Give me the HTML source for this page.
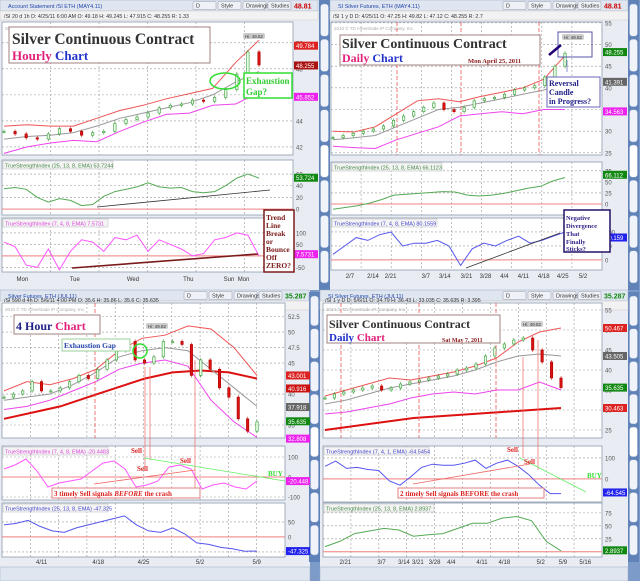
<!DOCTYPE html>
<html><head><meta charset="utf-8"><style>
html,body{margin:0;padding:0;background:#6f8fbf;}
svg{display:block;font-family:"Liberation Sans",sans-serif;}
.ser{font-family:"Liberation Serif",serif;font-weight:bold;}
</style></head><body>
<svg id="s" width="640" height="581" viewBox="0 0 640 581" xmlns="http://www.w3.org/2000/svg">
<g id="bg"></g>
<g id="charts"></g>
<g id="ann">
 <rect x="9" y="27" width="201" height="36" fill="#fff" stroke="#a08080"/>
 <text x="12" y="44" class="ser" font-size="15.5" fill="#333">Silver Continuous Contract</text>
 <text x="12" y="60" class="ser" font-size="13"><tspan fill="#e0207a">Hourly</tspan><tspan fill="#2233cc"> Chart</tspan></text>
 <ellipse cx="225" cy="81" rx="15" ry="8" fill="none" stroke="#33dd33" stroke-width="1.5"/>
 <rect x="244" y="73" width="48" height="25" fill="#fff" stroke="#33dd33" stroke-width="1.5"/>
 <text x="246" y="84" class="ser" font-size="9" fill="#33cc33">Exhaustion</text>
 <text x="246" y="95" class="ser" font-size="9" fill="#33cc33">Gap?</text>
 <rect x="264" y="210" width="30" height="62" fill="#fff" stroke="#7a1a1a" stroke-width="1.5"/>
 <text class="ser" font-size="7.5" fill="#7a1a1a"><tspan x="266" y="220">Trend</tspan><tspan x="266" y="228">Line</tspan><tspan x="266" y="236">Break</tspan><tspan x="266" y="244">or</tspan><tspan x="266" y="252">Bounce</tspan><tspan x="266" y="260">Off</tspan><tspan x="266" y="268">ZERO?</tspan></text>
 <rect x="340" y="35" width="200" height="30" fill="#fff" stroke="#a08080"/>
 <text x="342" y="48" class="ser" font-size="14" fill="#333">Silver Continuous Contract</text>
 <text x="342" y="62" class="ser" font-size="12"><tspan fill="#e0207a">Daily</tspan><tspan fill="#2233cc"> Chart</tspan></text>
 <text x="468" y="63" class="ser" font-size="6.5" fill="#8a1a1a">Mon April 25, 2011</text>
 <rect x="558" y="32" width="34" height="25" fill="none" stroke="#5555aa"/>
 <line x1="549" y1="55" x2="561" y2="45" stroke="#220077" stroke-width="2.5"/>
 <line x1="567" y1="72" x2="567" y2="60" stroke="#7777cc" stroke-width="0.8"/>
 <rect x="547" y="77" width="53" height="30" fill="#fff" stroke="#6666bb"/>
 <text class="ser" font-size="8" fill="#222288"><tspan x="549" y="86">Reversal</tspan><tspan x="549" y="95">Candle</tspan><tspan x="549" y="104">in Progress?</tspan></text>
 <rect x="564" y="210" width="46" height="42" fill="#fff" stroke="#221166" stroke-width="1.5"/>
 <text class="ser" font-size="6.5" fill="#332288"><tspan x="566" y="220">Negative</tspan><tspan x="566" y="228">Divergence</tspan><tspan x="566" y="236">That</tspan><tspan x="566" y="244">Finally</tspan><tspan x="566" y="251">Sticks?</tspan></text>
 <rect x="14" y="315" width="86" height="19" fill="#fff" stroke="#a08080"/>
 <text x="16" y="330" class="ser" font-size="12"><tspan fill="#222288">4 Hour</tspan><tspan fill="#e0207a"> Chart</tspan></text>
 <rect x="62" y="339" width="68" height="12" fill="#fff" stroke="#9ad09a"/>
 <text x="64" y="348" class="ser" font-size="7.5" fill="#2244aa">Exhaustion Gap</text>
 <circle cx="140" cy="351" r="7" fill="none" stroke="#33dd33" stroke-width="1.5"/>
 <text x="131" y="453" class="ser" font-size="7" fill="#dd2222">Sell</text>
 <text x="137" y="471" class="ser" font-size="7" fill="#dd2222">Sell</text>
 <text x="180" y="463" class="ser" font-size="7" fill="#dd2222">Sell</text>
 <text x="268" y="476" class="ser" font-size="7" fill="#33dd33">BUY</text>
 <rect x="52" y="488" width="148" height="10" fill="#fff" stroke="#e08080"/>
 <text x="54" y="496" class="ser" font-size="7" fill="#dd2222">3 timely Sell signals <tspan font-style="italic">BEFORE</tspan> the crash</text>
 <rect x="327" y="315" width="173" height="28" fill="#fff" stroke="#a08080"/>
 <text x="329" y="328" class="ser" font-size="12" fill="#333">Silver Continuous Contract</text>
 <text x="329" y="341" class="ser" font-size="11"><tspan fill="#2233cc">Daily</tspan><tspan fill="#e0207a"> Chart</tspan></text>
 <text x="442" y="342" class="ser" font-size="6" fill="#8a1a1a">Sat May 7, 2011</text>
 <text x="507" y="452" class="ser" font-size="7" fill="#dd2222">Sell</text>
 <text x="524" y="464" class="ser" font-size="7" fill="#dd2222">Sell</text>
 <text x="587" y="478" class="ser" font-size="7" fill="#33dd33">BUY</text>
 <rect x="398" y="488" width="146" height="10" fill="#fff" stroke="#e08080"/>
 <text x="400" y="496" class="ser" font-size="7" fill="#dd2222">2 timely Sell signals BEFORE the crash</text>
</g>
</svg>
<script>
const tlCloses=[43.2,43.0,42.7,42.6,43.0,43.4,43.2,42.9,43.1,43.2,43.8,44.1,44.3,44.6,45.0,45.2,45.3,45.6,45.5,45.8,46.4,47.6,49.3,48.3];
const tlUpper=[43.6,43.7,43.6,43.6,44.2,44.8,45.2,45.7,46.1,46.5,48.5,50.2];
const tlMid=[42.6,42.8,42.9,43.1,43.6,44.2,44.6,45.0,45.4,46.0,47.0,47.8];
const tlLower=[41.5,42.0,42.3,42.5,42.4,43.2,43.9,44.5,44.6,45.2,45.3,46.2];
const tlTsiA=[35,37,34,20,12,18,15,6,8,22,30,34,38,45,38,36,37,30,28,30,40,53,60,53];
const tlTsiB=[60,40,-40,-50,30,-60,20,70,60,20,80,70,90,20,70,50,30,0,10,70,80,100,90,0];
const tlPriceTicks=[42,44,46,48,50];
const tlTsiATicks=[0,20,40,60];
const tlTsiBTicks=[-50,0,50,100];
const tlXLabels=["Mon","Tue","Wed","Thu","Sun","Mon"];
const tlXFrac=[0.07,0.25,0.45,0.64,0.78,0.83];

const trCloses=[28.5,29,29.5,30,30.5,31.2,32.5,33.5,34.5,35.5,36.5,35,34.5,35.5,37,37.5,37.8,38.5,39.5,40,40.5,42.5,45,48];
const trUpper=[30,29.8,31,34,37,37.5,36.8,38,39,40,42,47.5];
const trMid=[28,28.5,29,31,33,35,35.5,36.5,37.5,38.5,39.5,41];
const trLower=[26.5,26.2,26,28,29.5,31,33.5,34,34.5,34,35,35];
const trTsiA=[-12,-8,-4,2,10,20,22,24,26,28,27,20,18,20,24,30,36,40,52,60];
const trTsiB=[20,50,80,70,90,100,50,60,60,70,50,-20,40,60,50,70,85,60,70,85,100];
const trPriceTicks=[25,30,35,40,45,50,55];
const trTsiATicks=[0,25,50,75];
const trTsiBTicks=[0,50,100];
const trXLabels=["2/7","2/14","2/21","3/7","3/14","3/21","3/28","4/4","4/11","4/18","4/25","5/2"];
const trXFrac=[0.07,0.155,0.22,0.35,0.42,0.5,0.57,0.64,0.71,0.785,0.855,0.93];

const blCloses=[39.5,40,40.5,42,40.5,40.5,41,42,43,42.5,44,45.5,47,48.5,45.5,45,46,48.5,48.5,48,43,45.5,44,41,39.5,36,34,35.5];
const blUpper=[40.5,42,41.5,42.5,44,47,49,49.5,51,50.5,47.5,43];
const blMid=[39,39.5,40,41.5,43.5,46,47,47.5,47,44,41,38];
const blLower=[37.5,38,39,40.5,42,44,45,45.5,44.5,39,35.5,33];
const blSma=[36,37,38,39.5,41,42.5,43.5,43.8,43.5,42.5];
const blTsiA=[40,60,90,30,-50,-30,-20,-10,30,70,80,40,-50,-40,-20,50,60,40,-60,-40,-30,-50,-60,-20];
const blTsiB=[40,45,55,35,20,15,30,40,50,60,70,40,20,15,30,10,-20,-25,-35,-40,-48,-47];
const blPriceTicks=[35,40,45,47.5,50,52.5];
const blTsiATicks=[-100,0,100];
const blTsiBTicks=[-50,0,50];
const blXLabels=["4/11","4/18","4/25","5/2","5/9"];
const blXFrac=[0.14,0.34,0.5,0.7,0.9];

const brCloses=[33,34,34.5,35,35.5,36,35,35.5,36.5,37,37.5,38,38.5,39,40,40.5,41.5,43.5,45.5,46.5,47.5,48,45,42,38,35.6];
const brUpper=[33.5,35,36.5,38,37.5,38.5,39.5,41,43,47,49.5,50.5];
const brMid=[31.5,32.5,34,35.5,36.5,37.5,38.5,40,42,43.5,44,43.5];
const brLower=[29,29.5,30.5,31.5,33,34,34.5,34,35,35,37,35];
const brSma=[25,26,27,28,28.5,29,29.5,30,30.5];
const brTsiA=[60,85,50,55,45,40,-10,-30,10,55,70,65,65,75,90,50,75,90,60,20,-30,-70,-70];
const brTsiB=[10,20,35,40,45,42,30,33,35,45,55,55,65,68,60,20,2];
const brPriceTicks=[25,30,35,40,45,50,55];
const brTsiATicks=[0,100];
const brTsiBTicks=[0,25,50,75];
const brXLabels=["2/21","3/7","3/14","3/21","3/28","4/4","4/11","4/18","5/2","5/9","5/16"];
const brXFrac=[0.08,0.21,0.29,0.34,0.4,0.46,0.57,0.65,0.78,0.86,0.94];

const NS="http://www.w3.org/2000/svg";
const charts=document.getElementById('charts'), bg=document.getElementById('bg');
function mk(tag,at,parent){const e=document.createElementNS(NS,tag);for(const k in at)e.setAttribute(k,at[k]);(parent||charts).appendChild(e);return e;}
function yScale(p){return v=>p.y0+(p.max-v)/(p.max-p.min)*(p.y1-p.y0);}
function xIdx(x0,span){return (i,n)=>x0+(n>1?i/(n-1):0)*span;}
function line(arr,x,y,color,w){
  const pts=arr.map((v,i)=>x(i,arr.length).toFixed(1)+","+y(v).toFixed(1)).join(" ");
  const e=mk('polyline',{points:pts,fill:'none',stroke:color,'stroke-width':w||1});
  
  
  return e;
}
function pane(px0,px1,p,ticks,label,labelW,grid){
  const r=mk('rect',{x:px0,y:p.y0,width:px1-px0,height:p.y1-p.y0,fill:'#fff',stroke:'#8c9bb0','stroke-width':0.8});
  
  
  const y=yScale(p);
  ticks.forEach(t=>{
    const g=mk('line',{x1:px0,x2:px1,y1:y(t),y2:y(t),stroke:'#999','stroke-dasharray':'2,2','stroke-width':0.6});
    
    
    const tx=mk('text',{x:px1+3,y:y(t)+2.5,'font-size':6,fill:'#555'});tx.textContent=t;
    
    
  });
  for(let i=1;i<grid;i++){const gx=px0+(px1-px0)*i/grid;
    const g=mk('line',{x1:gx,x2:gx,y1:p.y0,y2:p.y1,stroke:'#999','stroke-dasharray':'2,2','stroke-width':0.6});
    
    }
  if(label){const lb=mk('rect',{x:px0+1,y:p.y0+1,width:labelW,height:8,fill:'#f4f4f4',stroke:'#bbb','stroke-width':0.5});
    
    
    const t=mk('text',{x:px0+3,y:p.y0+7.5,'font-size':5.5,fill:label.c});t.textContent=label.t;
    
    }
  return y;
}
function candles(arr,x,y){
  arr.forEach((c,i)=>{const o=i?arr[i-1]:c;const up=c>=o;const cx=x(i,arr.length);
    const top=y(Math.max(o,c)),bot=y(Math.min(o,c));
    const w=mk('line',{x1:cx,x2:cx,y1:top-2,y2:bot+2,stroke:up?'#339933':'#cc2222','stroke-width':0.6});
    
    
    const b=mk('rect',{x:cx-1.2,y:top,width:2.4,height:Math.max(1,bot-top),fill:up?'#e8ffe8':'#dd1111',stroke:up?'#339933':'#aa0000','stroke-width':0.6});
    
    });
}
function priceTag(x,yv,txt,fill,tc){const r=mk('rect',{x:x,y:yv-4,width:24,height:8,fill:fill});
  
  
  const t=mk('text',{x:x+2,y:yv+2.5,'font-size':6,fill:tc||'#fff'});t.textContent=txt;
  
  }
function xLabels(labels,frac,px0,px1,yy){labels.forEach((l,i)=>{const t=mk('text',{x:px0+(px1-px0)*frac[i],y:yy,'font-size':6,fill:'#333','text-anchor':'middle'});t.textContent=l;
  
  });}
function toolbar(x,y,w,txtL,price){
  const r=mk('rect',{x:x,y:y,width:w,height:11,fill:'#dfe6f0',stroke:'#9aaac4','stroke-width':0.5},bg);
  
  
  const s=mk('text',{x:x+8,y:y+8,'font-size':5.5,fill:'#2244aa'},bg);s.textContent=txtL;
  
  
  ["D","Style","Drawings","Studies"].forEach((b,i)=>{const bx=x+w-125+i*25;
    const br=mk('rect',{x:bx,y:y+1.5,width:23,height:8,fill:'#eef1f6',stroke:'#99a',rx:1,'stroke-width':0.5},bg);
    
    
    const bt=mk('text',{x:bx+3,y:y+7.5,'font-size':5.5,fill:'#333'},bg);bt.textContent=b;
    
    });
  const p=mk('text',{x:x+w-24,y:y+8.5,'font-size':7,'font-weight':'bold',fill:price[1]},bg);p.textContent=price[0];
  
  
  const ib=mk('rect',{x:x,y:y+11,width:w,height:9,fill:'#f2f2f2',stroke:'#ccc','stroke-width':0.5},bg);
  
  
}
function infoText(x,y,t){const e=mk('text',{x:x,y:y,'font-size':5.3,fill:'#333'});e.textContent=t;
  
  }
function tabStrip(x,y,h){const r=mk('rect',{x:x,y:y,width:11,height:h,fill:'#5f82b8'},bg);
  
  
  ["Trade","Times And Sales","Active Trader","Big Buttons","Chart","Dashboard","Level II","Live News"].forEach((t,i)=>{
    const ty=y+4+i*(h-8)/8;
    const tb=mk('rect',{x:x+1.5,y:ty,width:8,height:(h-8)/8-3,fill:i==4?'#fff':'#f0f4fa',stroke:'#8aa0c8','stroke-width':0.5,rx:3},bg);
    
    });}

const fr=mk('rect',{x:0,y:0,width:640,height:581,fill:'#7d9bc8'},bg);


[[0,0,320,290],[330,0,298,290],[0,290,310,291],[320,290,308,291]].forEach(q=>{
  const r=mk('rect',{x:q[0],y:q[1],width:q[2],height:q[3],fill:'#e9edf3'},bg);
  
  });
tabStrip(319,0,290);tabStrip(628,0,290);tabStrip(309,292,270);tabStrip(628,292,270);
toolbar(0,0,318,"Account Statement  /SI  ETH (MAY4.11)",["48.81","#cc0000"]);
toolbar(330,0,298,"SI   Silver Futures, ETH (MAY4.11)",["48.81","#cc0000"]);
toolbar(0,290,309,"Silver Futures, ETH (JUL11)",["35.287","#118811"]);
toolbar(320,290,308,"SI   Silver Futures, ETH (JUL11)",["35.287","#118811"]);
[[0,567,310],[320,567,308]].forEach(b=>{const r=mk('rect',{x:b[0],y:b[1],width:b[2],height:14,fill:'#dfe6f0',stroke:'#9aaac4','stroke-width':0.5},bg);
  
  });

function drawChart(c){
  const m=c.main, y=pane(c.px0,c.px1,m,c.pt,null,0,c.grid);
  const x=xIdx(c.px0+2,c.span);
  if(c.sma) line(c.sma,x,y,'#dd1111',2);
  line(c.upper,x,y,'#ee5555',1);
  line(c.mid,x,y,'#999',1);
  line(c.lower,x,y,'#ee44ee',1);
  candles(c.closes,x,y);
  const ya=pane(c.px0,c.px1,c.ta,c.tat,c.la,c.lwa,c.grid);
  const z1=mk('line',{x1:c.px0,x2:c.px1,y1:ya(0),y2:ya(0),stroke:'#f08080'});
  
  
  line(c.tsiA,x,ya,c.ca,1);
  const yb=pane(c.px0,c.px1,c.tb,c.tbt,c.lb,c.lwb,c.grid);
  const z2=mk('line',{x1:c.px0,x2:c.px1,y1:yb(0),y2:yb(0),stroke:'#f08080'});
  
  
  line(c.tsiB,x,yb,c.cb,1);
  xLabels(c.xl,c.xf,c.px0,c.px1,c.xy);
  infoText(c.px0+2,c.iy,c.info);
  const cp=mk('text',{x:c.px0+3,y:m.y0+8,'font-size':4.5,fill:'#aaa'});cp.textContent="2010 © TD Ameritrade IP Company, Inc.";
  
  
  return {x,y,ya,yb};
}
const TL=drawChart({px0:2,px1:293,span:255,grid:6,main:{y0:22,y1:155,min:41.38,max:51.6},pt:tlPriceTicks,
  closes:tlCloses,upper:tlUpper,mid:tlMid,lower:tlLower,
  ta:{y0:160,y1:215,min:-10,max:84},tat:tlTsiATicks,tsiA:tlTsiA,ca:'#55aa55',la:{t:"TrueStrengthIndex (25, 13, 8, EMA)  53.7244",c:'#448844'},lwa:110,
  tb:{y0:218,y1:272,min:-70,max:165},tbt:tlTsiBTicks,tsiB:tlTsiB,cb:'#ff55ff',lb:{t:"TrueStrengthIndex (7, 4, 8, EMA)  7.5731",c:'#dd44dd'},lwb:105,
  xl:tlXLabels,xf:tlXFrac,xy:281,iy:18,info:"/SI 20 d 1h  D: 4/25/11 6:00 AM  O: 49.18  H: 49.245  L: 47.915  C: 48.255  R: 1.33"});
const TR=drawChart({px0:331,px1:602,span:232,grid:9,main:{y0:22,y1:155,min:24.5,max:55.2},pt:trPriceTicks,
  closes:trCloses,upper:trUpper,mid:trMid,lower:trLower,
  ta:{y0:162,y1:215,min:-25,max:95},tat:trTsiATicks,tsiA:trTsiA,ca:'#55aa55',la:{t:"TrueStrengthIndex (25, 13, 8, EMA)  66.1123",c:'#448844'},lwa:110,
  tb:{y0:218,y1:270,min:-36,max:150},tbt:trTsiBTicks,tsiB:trTsiB,cb:'#5555ee',lb:{t:"TrueStrengthIndex (7, 4, 8, EMA)  80.1559",c:'#4444cc'},lwb:105,
  xl:trXLabels,xf:trXFrac,xy:278,iy:18,info:"/SI 1 y D  D: 4/25/11  O: 47.25  H: 49.82  L: 47.12  C: 48.255  R: 2.7"});
const BL=drawChart({px0:2,px1:285,span:253,grid:10,main:{y0:303,y1:438,min:32.9,max:54.7},pt:blPriceTicks,sma:blSma,
  closes:blCloses,upper:blUpper,mid:blMid,lower:blLower,
  ta:{y0:446,y1:500,min:-115,max:155},tat:blTsiATicks,tsiA:blTsiA,ca:'#ff55ff',la:{t:"TrueStrengthIndex (7, 4, 8, EMA)  -20.4483",c:'#dd44dd'},lwa:105,
  tb:{y0:503,y1:557,min:-67,max:113},tbt:blTsiBTicks,tsiB:blTsiB,cb:'#5555ee',lb:{t:"TrueStrengthIndex (25, 13, 8, EMA)  -47.325",c:'#4444cc'},lwb:105,
  xl:blXLabels,xf:blXFrac,xy:564,iy:302,info:"/SI 590 d 4h  D: 5/6/11 4:00 PM  O: 35.6  H: 35.86  L: 35.6  C: 35.635"});
const BR=drawChart({px0:323,px1:602,span:236,grid:10,main:{y0:303,y1:438,min:23,max:56.75},pt:brPriceTicks,sma:brSma,
  closes:brCloses,upper:brUpper,mid:brMid,lower:brLower,
  ta:{y0:446,y1:502,min:-110,max:157},tat:brTsiATicks,tsiA:brTsiA,ca:'#5555ee',la:{t:"TrueStrengthIndex (7, 4, 1, EMA)  -64.5454",c:'#4444cc'},lwa:105,
  tb:{y0:503,y1:557,min:-10,max:94},tbt:brTsiBTicks,tsiB:brTsiB,cb:'#55aa55',lb:{t:"TrueStrengthIndex (25, 13, 8, EMA)  2.8937",c:'#448844'},lwb:110,
  xl:brXLabels,xf:brXFrac,xy:564,iy:302,info:"/SI 1 y D  D: 5/6/11  O: 34.79  H: 36.43  L: 33.035  C: 35.635  R: 3.395"});

priceTag(294,TL.y(49.78),"49.784","#dd2222");priceTag(294,TL.y(48.26),"48.255","#aa1111");priceTag(294,TL.y(45.85),"45.852","#ee22ee");
priceTag(294,TL.ya(53.7),"53.724","#118811");priceTag(294,TL.yb(7.57),"7.5731","#ee22ee");
priceTag(603,TR.y(48.26),"48.255","#118811");priceTag(603,TR.y(41.39),"41.391","#666");priceTag(603,TR.y(34.56),"34.563","#ee22ee");
priceTag(603,TR.ya(66.1),"66.112","#118811");priceTag(603,TR.yb(80.2),"80.159","#2222ee");
priceTag(286,BL.y(43),"43.001","#dd2222");priceTag(286,BL.y(40.9),"40.916","#cc1111");priceTag(286,BL.y(37.9),"37.918","#666");
priceTag(286,BL.y(35.6),"35.635","#118811");priceTag(286,BL.y(32.8),"32.808","#ee22ee");priceTag(286,BL.ya(-20.4),"-20.448","#ee22ee");priceTag(286,BL.yb(-47.3),"-47.325","#2222ee");
priceTag(603,BR.y(50.5),"50.467","#dd2222");priceTag(603,BR.y(43.5),"43.505","#666");priceTag(603,BR.y(35.6),"35.635","#118811");
priceTag(603,BR.y(30.5),"30.463","#dd2222");priceTag(603,BR.ya(-64.5),"-64.545","#2222ee");priceTag(603,BR.yb(2.9),"2.8937","#118811");

[[243,33],[562,34],[146,323],[521,321]].forEach(h=>{const r=mk('rect',{x:h[0],y:h[1],width:22,height:6,fill:'#ccc',rx:2});
  
  
  const t=mk('text',{x:h[0]+2,y:h[1]+5,'font-size':4.5,fill:'#333'});t.textContent="Hi: 49.82";
  
  });

[[397,22,155],[461,22,155],[539,22,155],[95,303,438],[341,303,438],[419,303,438],[496,303,438]].forEach(v=>{
  const l=mk('line',{x1:v[0],x2:v[0],y1:v[1],y2:v[2],stroke:'#ee5555','stroke-dasharray':'4,2','stroke-width':0.8});
  
  });
[[150,367,150,460],[145,367,145,470],[195,360,195,497],[523,357,523,458],[538,340,538,470]].forEach(v=>{
  const l=mk('line',{x1:v[0],x2:v[2],y1:v[1],y2:v[3],stroke:'#ee6666','stroke-width':0.7});
  
  });
[[97,207,270,190,'#333',0.8],[72,268,258,254,'#7a1a1a',1.6],[466,268,560,233,'#333',0.8],[94,484,195,470,'#ee6666',0.8],[144,458,285,481,'#66ee66',0.8],[413,484,530,464,'#ee6666',0.8],[520,458,586,492,'#66ee66',0.8]].forEach(t=>{
  const l=mk('line',{x1:t[0],y1:t[1],x2:t[2],y2:t[3],stroke:t[4],'stroke-width':t[5]});
  
  });
</script>
</body></html>
